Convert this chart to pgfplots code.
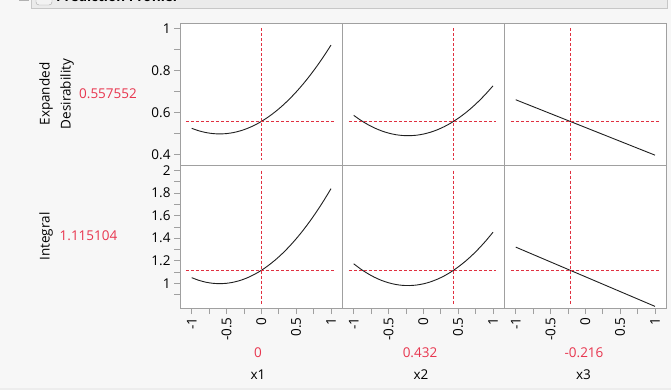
\documentclass[border=0pt]{standalone}
\usepackage{pgfplots}
\pgfplotsset{compat=1.18}
\usepackage{fontspec}
\setmainfont{Open Sans}
\newcommand\fs{\fontsize{13.5}{21}\selectfont}
\definecolor{bg}{HTML}{F7F7F7}
\definecolor{axgray}{HTML}{A0A0A0}
\definecolor{jred}{HTML}{E8364F}
\definecolor{dred}{HTML}{E03040}
\definecolor{curve}{HTML}{202020}
\pgfplotsset{
  prof/.style={
    scale only axis, width=162pt, anchor=north west,
    xmin=-1.168, xmax=1.158,
    axis line style={draw=axgray, line width=0.8pt},
    tick style={draw=axgray, line width=0.8pt},
    tick align=outside, tick pos=left,
    major tick length=6pt, minor tick length=6pt,
    /pgf/number format/assume math mode=true,
    ticklabel style={font=\fs, text=black},
    axis background/.style={fill=white},
    clip=false,
  },
  toprow/.style={prof, height=142pt, ymin=0.351, ymax=1.025,
    xtick=\empty, ytick=\empty},
  botrow/.style={prof, height=143pt, ymin=0.781, ymax=2.05,
    xtick={-1,-0.5,0,0.5,1}, minor xtick={-0.75,-0.25,0.25,0.75},
    xticklabel style={rotate=90, anchor=east},
    ytick=\empty},
  leftcol/.style={ytick={0.4,0.6,0.8,1}, minor ytick={0.5,0.7,0.9}},
  leftcolb/.style={ytick={1,1.2,1.4,1.6,1.8,2}, minor ytick={0.9,1.1,1.3,1.5,1.7,1.9}},
  crv/.style={curve, line width=0.9pt, no marks, smooth},
  dsh/.style={dred, line width=0.8pt, dash pattern=on 3pt off 2pt, no marks},
}
\begin{document}
\begin{tikzpicture}[x=1pt,y=1pt]
\useasboundingbox (0,0) rectangle (671,390);
\clip (0,0) rectangle (671,390);
\fill[bg] (0,0) rectangle (671,390);
% header
\draw[draw=black!22, fill=black!8] (31,382) rectangle (667,396);
\draw[draw=black!35, fill=black!5, rounded corners=3pt] (36,385) rectangle (52,396);
\node[anchor=base west, inner sep=0pt, font=\fs\bfseries] at (56,388) {Prediction Profiler};
\draw[black!30] (19,389.5) -- (29,389.5);
\fill[black!7] (0,0) rectangle (671,2);

% ---- top row: Expanded Desirability
\begin{axis}[toprow, leftcol, at={(180pt,367pt)}]
\addplot[crv] coordinates {(-1,0.5251) (-0.9,0.5135) (-0.8,0.5052) (-0.7,0.5002) (-0.6,0.4985) (-0.5,0.5001) (-0.4,0.5050) (-0.3,0.5132) (-0.2,0.5247) (-0.1,0.5395) (0,0.5576) (0.1,0.5790) (0.2,0.6037) (0.3,0.6317) (0.4,0.6630) (0.5,0.6976) (0.6,0.7355) (0.7,0.7767) (0.8,0.8212) (0.9,0.8690) (1,0.9201)};
\addplot[dsh] coordinates {(-1.085,0.5576) (1.045,0.5576)};
\addplot[dsh] coordinates {(0,1.0) (0,0.375)};
\end{axis}
\begin{axis}[toprow, at={(342pt,367pt)}]
\addplot[crv] coordinates {(-1,0.5867) (-0.9,0.5635) (-0.8,0.5435) (-0.7,0.5266) (-0.6,0.5129) (-0.5,0.5025) (-0.4,0.4951) (-0.3,0.4910) (-0.2,0.4901) (-0.1,0.4923) (0,0.4977) (0.1,0.5063) (0.2,0.5181) (0.3,0.5330) (0.4,0.5511) (0.5,0.5725) (0.6,0.5969) (0.7,0.6246) (0.8,0.6555) (0.9,0.6895) (1,0.7267)};
\addplot[dsh] coordinates {(-1.07,0.5576) (1.045,0.5576)};
\addplot[dsh] coordinates {(0.432,1.0) (0.432,0.375)};
\end{axis}
\begin{axis}[toprow, at={(504pt,367pt)}]
\addplot[crv] coordinates {(-1,0.6607) (1,0.3977)};
\addplot[dsh] coordinates {(-1.07,0.5576) (1.06,0.5576)};
\addplot[dsh] coordinates {(-0.216,1.0) (-0.216,0.375)};
\end{axis}

% ---- bottom row: Integral
\begin{axis}[botrow, leftcolb, at={(180pt,225pt)}]
\addplot[crv] coordinates {(-1,1.0502) (-0.9,1.0270) (-0.8,1.0104) (-0.7,1.0004) (-0.6,0.9970) (-0.5,1.0002) (-0.4,1.0100) (-0.3,1.0264) (-0.2,1.0494) (-0.1,1.0790) (0,1.1151) (0.1,1.1580) (0.2,1.2074) (0.3,1.2634) (0.4,1.3260) (0.5,1.3952) (0.6,1.4710) (0.7,1.5534) (0.8,1.6424) (0.9,1.7380) (1,1.8402)};
\addplot[dsh] coordinates {(-1.085,1.1151) (1.045,1.1151)};
\addplot[dsh] coordinates {(0,2.0) (0,0.816)};
\end{axis}
\begin{axis}[botrow, at={(342pt,225pt)}]
\addplot[crv] coordinates {(-1,1.1734) (-0.9,1.1270) (-0.8,1.0870) (-0.7,1.0532) (-0.6,1.0258) (-0.5,1.0050) (-0.4,0.9902) (-0.3,0.9820) (-0.2,0.9802) (-0.1,0.9846) (0,0.9954) (0.1,1.0126) (0.2,1.0362) (0.3,1.0660) (0.4,1.1022) (0.5,1.1450) (0.6,1.1938) (0.7,1.2492) (0.8,1.3110) (0.9,1.3790) (1,1.4534)};
\addplot[dsh] coordinates {(-1.07,1.1151) (1.045,1.1151)};
\addplot[dsh] coordinates {(0.432,2.0) (0.432,0.816)};
\end{axis}
\begin{axis}[botrow, at={(504pt,225pt)}]
\addplot[crv] coordinates {(-1,1.3214) (1,0.7954)};
\addplot[dsh] coordinates {(-1.07,1.1151) (1.06,1.1151)};
\addplot[dsh] coordinates {(-0.216,2.0) (-0.216,0.816)};
\end{axis}

% ---- labels
\node[rotate=90, align=center, font=\fs, text=black] at (56.5,296) {Expanded\\Desirability};
\node[font=\fs, text=jred] at (108,296) {0.557552};
\node[rotate=90, font=\fs, text=black] at (46,153.5) {Integral};
\node[font=\fs, text=jred] at (88.5,154) {1.115104};
\node[font=\fs, text=jred] at (258,37.3) {0};
\node[font=\fs, text=jred] at (420,37.3) {0.432};
\node[font=\fs, text=jred] at (584,37.3) {-0.216};
\node[font=\fs, text=black] at (258,15.7) {x1};
\node[font=\fs, text=black] at (421,15.7) {x2};
\node[font=\fs, text=black] at (583.5,15.7) {x3};
\end{tikzpicture}
\end{document}
